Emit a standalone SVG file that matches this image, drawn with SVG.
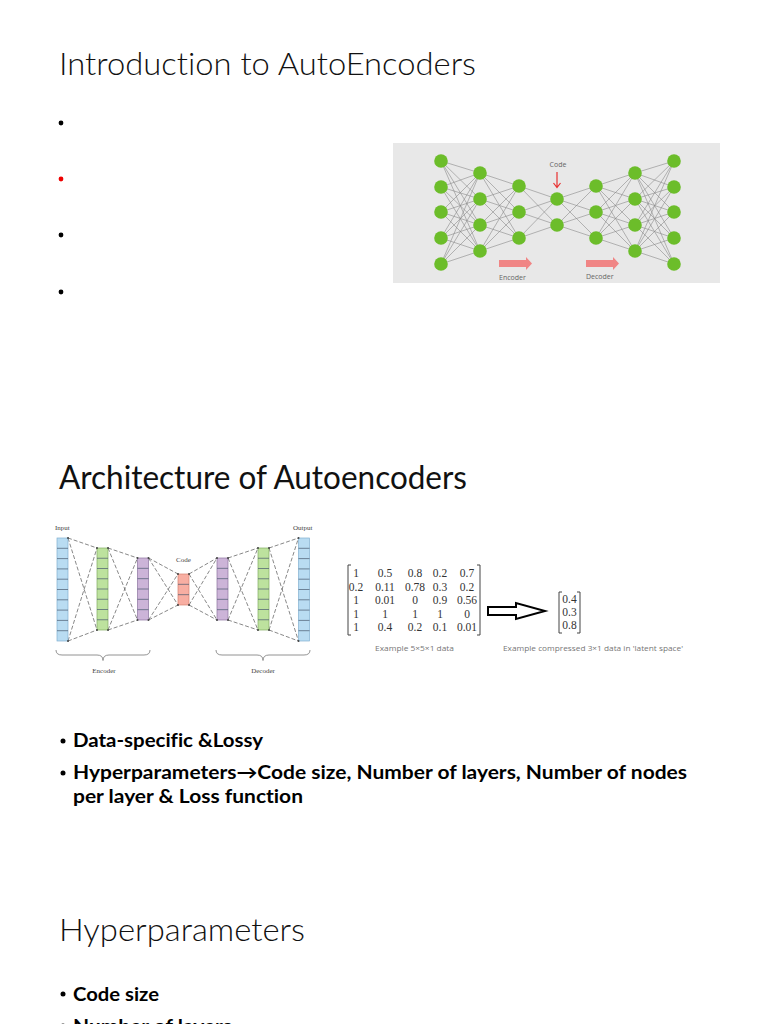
<svg xmlns="http://www.w3.org/2000/svg" width="768" height="1024" viewBox="0 0 768 1024">
<style>
text{font-variant-ligatures:none;font-feature-settings:"liga" 0,"clig" 0}
.title{font-family:Lato,"Open Sans",sans-serif;font-weight:300;font-size:32px;fill:#111}
.title2{font-family:Lato,"Open Sans",sans-serif;font-weight:400;font-size:32px;fill:#111}
.body{font-family:Lato,"Open Sans",sans-serif;font-weight:700;font-size:18px;fill:#000}
.nn{fill:#6cbd2a}
.edge{fill:none;stroke:#8a8a8a;stroke-width:0.6}
.small{font-family:"Open Sans",Lato,sans-serif;font-size:7px;fill:#666}
.serif{font-family:"Liberation Serif","DejaVu Serif",serif;font-size:7px;fill:#444}
.dash{fill:none;stroke:#555;stroke-width:0.7;stroke-dasharray:4 2}
.dot{fill:#444}
.div{fill:none;stroke:#4a5a70;stroke-width:0.7}
.mat{font-family:"Liberation Serif","DejaVu Serif",serif;font-size:11.5px;fill:#333;text-anchor:middle}
.brk{fill:none;stroke:#444;stroke-width:1}
.cap{font-family:"Open Sans",Lato,sans-serif;font-size:7.5px;fill:#777}
</style>

<!-- Slide 1 -->
<text class="title" x="59" y="75" textLength="417" lengthAdjust="spacingAndGlyphs">Introduction to AutoEncoders</text>
<g id="bullets1">
<circle cx="61" cy="123" r="2.4" fill="#000"/>
<circle cx="61" cy="179" r="2.4" fill="#e00"/>
<circle cx="61" cy="235" r="2.4" fill="#000"/>
<circle cx="61" cy="292" r="2.4" fill="#000"/>
</g>

<rect x="393" y="143" width="327" height="140" fill="#e8e8e8"/>
<g id="nn-connectors">
<path class="edge" d="M441 161L480 173M441 161L480 199M441 161L480 225M441 161L480 251M441 187L480 173M441 187L480 199M441 187L480 225M441 187L480 251M441 212L480 173M441 212L480 199M441 212L480 225M441 212L480 251M441 238L480 173M441 238L480 199M441 238L480 225M441 238L480 251M441 264L480 173M441 264L480 199M441 264L480 225M441 264L480 251"/>
<path class="edge" d="M480 173L519 186M480 173L519 212M480 173L519 238M480 199L519 186M480 199L519 212M480 199L519 238M480 225L519 186M480 225L519 212M480 225L519 238M480 251L519 186M480 251L519 212M480 251L519 238"/>
<path class="edge" d="M519 186L557 199M519 186L557 225M519 212L557 199M519 212L557 225M519 238L557 199M519 238L557 225"/>
<path class="edge" d="M557 199L596 186M557 199L596 212M557 199L596 238M557 225L596 186M557 225L596 212M557 225L596 238"/>
<path class="edge" d="M596 186L635 173M596 186L635 199M596 186L635 225M596 186L635 251M596 212L635 173M596 212L635 199M596 212L635 225M596 212L635 251M596 238L635 173M596 238L635 199M596 238L635 225M596 238L635 251"/>
<path class="edge" d="M635 173L674 161M635 173L674 187M635 173L674 212M635 173L674 238M635 173L674 264M635 199L674 161M635 199L674 187M635 199L674 212M635 199L674 238M635 199L674 264M635 225L674 161M635 225L674 187M635 225L674 212M635 225L674 238M635 225L674 264M635 251L674 161M635 251L674 187M635 251L674 212M635 251L674 238M635 251L674 264"/>
<path d="M557 172V187M553.5 183L557 187.5L560.5 183" fill="none" stroke="#e83030" stroke-width="1.2"/>
<polygon points="499,260 526,260 526,257 532,263.5 526,270 526,267 499,267" fill="#f08585"/>
<polygon points="586,260 613,260 613,257 619,263.5 613,270 613,267 586,267" fill="#f08585"/>
</g>
<g id="nn-l1"><circle class="nn" cx="441" cy="161" r="6.8"/><circle class="nn" cx="441" cy="187" r="6.8"/><circle class="nn" cx="441" cy="212" r="6.8"/><circle class="nn" cx="441" cy="238" r="6.8"/><circle class="nn" cx="441" cy="264" r="6.8"/></g>
<g id="nn-l2"><circle class="nn" cx="480" cy="173" r="6.8"/><circle class="nn" cx="480" cy="199" r="6.8"/><circle class="nn" cx="480" cy="225" r="6.8"/><circle class="nn" cx="480" cy="251" r="6.8"/></g>
<g id="nn-l3"><circle class="nn" cx="519" cy="186" r="6.8"/><circle class="nn" cx="519" cy="212" r="6.8"/><circle class="nn" cx="519" cy="238" r="6.8"/></g>
<g id="nn-code"><circle class="nn" cx="557" cy="199" r="6.8"/><circle class="nn" cx="557" cy="225" r="6.8"/><text class="small" x="558" y="167" text-anchor="middle">Code</text></g>
<g id="nn-l5"><circle class="nn" cx="596" cy="186" r="6.8"/><circle class="nn" cx="596" cy="212" r="6.8"/><circle class="nn" cx="596" cy="238" r="6.8"/></g>
<g id="nn-l6"><circle class="nn" cx="635" cy="173" r="6.8"/><circle class="nn" cx="635" cy="199" r="6.8"/><circle class="nn" cx="635" cy="225" r="6.8"/><circle class="nn" cx="635" cy="251" r="6.8"/></g>
<g id="nn-l7"><circle class="nn" cx="674" cy="161" r="6.8"/><circle class="nn" cx="674" cy="187" r="6.8"/><circle class="nn" cx="674" cy="212" r="6.8"/><circle class="nn" cx="674" cy="238" r="6.8"/><circle class="nn" cx="674" cy="264" r="6.8"/></g>
<text class="small" x="499" y="280">Encoder</text>
<text class="small" x="586" y="279">Decoder</text>

<!-- Slide 2 -->
<text class="title2" x="59" y="489" textLength="408" lengthAdjust="spacingAndGlyphs">Architecture of Autoencoders</text>

<g id="ae-connectors">
<path class="dash" d="M68 538L97 548M68 641L97 630M68 538L97 630M68 641L97 548"/>
<path class="dash" d="M108 548L137.5 558M108 630L137.5 620M108 548L137.5 620M108 630L137.5 558"/>
<path class="dash" d="M148.5 558L178 574M148.5 620L178 605M148.5 558L178 605M148.5 620L178 574"/>
<path class="dash" d="M189 574L217 558M189 605L217 620M189 574L217 620M189 605L217 558"/>
<path class="dash" d="M228 558L258 548M228 620L258 630M228 558L258 630M228 620L258 548"/>
<path class="dash" d="M269 548L298.5 538M269 630L298.5 641M269 548L298.5 641M269 630L298.5 538"/>
</g>
<g id="ae-input">
<rect x="57" y="538" width="11" height="103" fill="#b9dcf2" stroke="#80b0d0" stroke-width="0.7"/>
<path class="div" d="M57 548.3h11M57 558.6h11M57 568.9h11M57 579.2h11M57 589.5h11M57 599.8h11M57 610.1h11M57 620.4h11M57 630.7h11"/>
<circle class="dot" cx="68" cy="538" r="1"/><circle class="dot" cx="68" cy="641" r="1"/>
<text class="serif" x="55" y="530">Input</text>
</g>
<g id="ae-enc1">
<rect x="97" y="548" width="11" height="82" fill="#bde29e" stroke="#80ac60" stroke-width="0.7"/>
<path class="div" d="M97 558.25h11M97 568.5h11M97 578.75h11M97 589h11M97 599.25h11M97 609.5h11M97 619.75h11"/>
<circle class="dot" cx="97" cy="548" r="1"/><circle class="dot" cx="97" cy="630" r="1"/><circle class="dot" cx="108" cy="548" r="1"/><circle class="dot" cx="108" cy="630" r="1"/>
</g>
<g id="ae-enc2">
<rect x="137.5" y="558" width="11" height="62" fill="#ccb4d8" stroke="#8c72a0" stroke-width="0.7"/>
<path class="div" d="M137.5 568.33h11M137.5 578.67h11M137.5 589h11M137.5 599.33h11M137.5 609.67h11"/>
<circle class="dot" cx="137.5" cy="558" r="1"/><circle class="dot" cx="137.5" cy="620" r="1"/><circle class="dot" cx="148.5" cy="558" r="1"/><circle class="dot" cx="148.5" cy="620" r="1"/>
</g>
<g id="ae-code">
<rect x="178" y="574" width="11" height="31" fill="#f8aea2" stroke="#d88070" stroke-width="0.7"/>
<path class="div" d="M178 584.33h11M178 594.67h11" stroke="#b06a60"/>
<circle class="dot" cx="178" cy="574" r="1"/><circle class="dot" cx="178" cy="605" r="1"/><circle class="dot" cx="189" cy="574" r="1"/><circle class="dot" cx="189" cy="605" r="1"/>
<text class="serif" x="183.5" y="562" text-anchor="middle">Code</text>
</g>
<g id="ae-dec1">
<rect x="217" y="558" width="11" height="62" fill="#ccb4d8" stroke="#8c72a0" stroke-width="0.7"/>
<path class="div" d="M217 568.33h11M217 578.67h11M217 589h11M217 599.33h11M217 609.67h11"/>
<circle class="dot" cx="217" cy="558" r="1"/><circle class="dot" cx="217" cy="620" r="1"/><circle class="dot" cx="228" cy="558" r="1"/><circle class="dot" cx="228" cy="620" r="1"/>
</g>
<g id="ae-dec2">
<rect x="258" y="548" width="11" height="82" fill="#bde29e" stroke="#80ac60" stroke-width="0.7"/>
<path class="div" d="M258 558.25h11M258 568.5h11M258 578.75h11M258 589h11M258 599.25h11M258 609.5h11M258 619.75h11"/>
<circle class="dot" cx="258" cy="548" r="1"/><circle class="dot" cx="258" cy="630" r="1"/><circle class="dot" cx="269" cy="548" r="1"/><circle class="dot" cx="269" cy="630" r="1"/>
</g>
<g id="ae-output">
<rect x="298.5" y="538" width="11" height="103" fill="#b9dcf2" stroke="#80b0d0" stroke-width="0.7"/>
<path class="div" d="M298.5 548.3h11M298.5 558.6h11M298.5 568.9h11M298.5 579.2h11M298.5 589.5h11M298.5 599.8h11M298.5 610.1h11M298.5 620.4h11M298.5 630.7h11"/>
<circle class="dot" cx="298.5" cy="538" r="1"/><circle class="dot" cx="298.5" cy="641" r="1"/>
<text class="serif" x="293" y="530">Output</text>
</g>
<g id="ae-braces">
<path d="M56 650Q56 655 62 655L97 655Q103 655 103 660.5Q103 655 109 655L144 655Q150 655 150 650" fill="none" stroke="#777" stroke-width="0.8"/>
<path d="M216 650Q216 655 222 655L257 655Q263 655 263 660.5Q263 655 269 655L304 655Q310 655 310 650" fill="none" stroke="#777" stroke-width="0.8"/>
<text class="serif" x="104" y="673" text-anchor="middle">Encoder</text>
<text class="serif" x="263" y="673" text-anchor="middle">Decoder</text>
</g>

<g id="matrix">
<path class="brk" d="M351 565H348V635H351"/>
<path class="brk" d="M477 565H480V635H477"/>
<text class="mat" y="577"><tspan x="356">1</tspan><tspan x="385">0.5</tspan><tspan x="415">0.8</tspan><tspan x="440">0.2</tspan><tspan x="467">0.7</tspan></text>
<text class="mat" y="590.5"><tspan x="356">0.2</tspan><tspan x="385">0.11</tspan><tspan x="415">0.78</tspan><tspan x="440">0.3</tspan><tspan x="467">0.2</tspan></text>
<text class="mat" y="604"><tspan x="356">1</tspan><tspan x="385">0.01</tspan><tspan x="415">0</tspan><tspan x="440">0.9</tspan><tspan x="467">0.56</tspan></text>
<text class="mat" y="617.5"><tspan x="356">1</tspan><tspan x="385">1</tspan><tspan x="415">1</tspan><tspan x="440">1</tspan><tspan x="467">0</tspan></text>
<text class="mat" y="631"><tspan x="356">1</tspan><tspan x="385">0.4</tspan><tspan x="415">0.2</tspan><tspan x="440">0.1</tspan><tspan x="467">0.01</tspan></text>
<text class="cap" x="375" y="651" textLength="79" lengthAdjust="spacingAndGlyphs">Example 5×5×1 data</text>
</g>
<g id="arrow-hollow">
<polygon points="488,607 516,607 516,603 545,611 516,619 516,615 488,615" fill="#fff" stroke="#000" stroke-width="2" stroke-linejoin="miter"/>
</g>
<g id="vector">
<path class="brk" d="M562 592H559V633H562"/>
<path class="brk" d="M577 592H580V633H577"/>
<text class="mat" y="603" x="569.5">0.4</text>
<text class="mat" y="616" x="569.5">0.3</text>
<text class="mat" y="629" x="569.5">0.8</text>
<text class="cap" x="503" y="651" textLength="180" lengthAdjust="spacingAndGlyphs">Example compressed 3×1 data in 'latent space'</text>
</g>

<g id="bullets2">
<circle cx="63" cy="741" r="2.5" fill="#000"/>
<text class="body" x="73" y="747" textLength="190" lengthAdjust="spacingAndGlyphs">Data-specific &amp;Lossy</text>
<circle cx="63" cy="773" r="2.5" fill="#000"/>
<text class="body" x="73" y="779" textLength="614" lengthAdjust="spacingAndGlyphs">Hyperparameters→Code size, Number of layers, Number of nodes</text>
<text class="body" x="73" y="803" textLength="230" lengthAdjust="spacingAndGlyphs">per layer &amp; Loss function</text>
</g>

<!-- Slide 3 -->
<text class="title" x="59" y="941" textLength="246" lengthAdjust="spacingAndGlyphs">Hyperparameters</text>
<g id="bullets3">
<circle cx="63" cy="994" r="2.5" fill="#000"/>
<text class="body" x="73" y="1001" textLength="86" lengthAdjust="spacingAndGlyphs">Code size</text>
<circle cx="63" cy="1026" r="2.5" fill="#000"/>
<text class="body" x="73" y="1033" textLength="159" lengthAdjust="spacingAndGlyphs">Number of layers</text>
</g>
</svg>
